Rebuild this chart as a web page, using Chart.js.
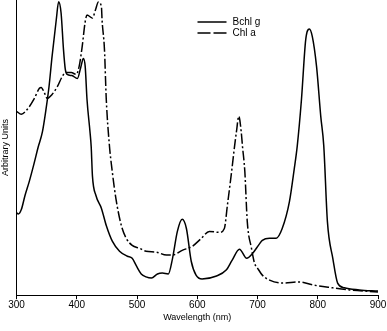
<!DOCTYPE html>
<html>
<head>
<meta charset="utf-8">
<script src="https://cdn.jsdelivr.net/npm/chart.js@4/dist/chart.umd.min.js"></script>
<style>
  html, body { margin: 0; padding: 0; background: #fff; }
  canvas { display: block; }
</style>
</head>
<body>
<canvas id="graph" width="387" height="331"></canvas>
<script>
// wavelengths (nm) and relative absorbance
const bchlWl  = [300, 303, 308, 314, 321, 329, 336, 343, 349, 354, 359, 366, 370, 374, 378, 381, 384, 392, 401, 407, 411, 414, 417, 422, 424, 426, 432, 441, 449, 459, 471, 484, 492, 499, 507, 515, 524, 534, 542, 552, 559, 567, 575, 582, 590, 598, 608, 632, 648, 658, 670, 682, 692, 703, 708, 720, 731, 741, 753, 761, 766, 773, 780, 786, 791, 798, 805, 810, 816, 825, 833, 844, 869, 900];
const bchlAbs = [28.0, 27.5, 29.0, 33.7, 38.4, 44.5, 50.2, 55.3, 63.0, 70.7, 80.8, 93.3, 99.4, 95.6, 83.2, 76.5, 74.8, 74.4, 73.4, 77.5, 80.2, 77.5, 66.4, 55.3, 50.2, 40.5, 33.7, 29.4, 23.6, 18.3, 14.9, 13.2, 12.5, 9.9, 7.2, 6.2, 5.8, 7.2, 7.5, 7.2, 12.5, 21.6, 25.7, 22.6, 11.5, 6.8, 5.5, 6.5, 8.5, 11.9, 15.6, 12.5, 14.2, 17.3, 18.6, 19.3, 19.3, 22.6, 31.7, 42.8, 50.6, 66.4, 86.5, 90.2, 87.6, 77.5, 60.6, 50.6, 25.0, 12.5, 4.1, 2.5, 1.8, 1.4];

const chlWl  = [300, 308, 318, 329, 338, 341, 346, 351, 359, 368, 376, 382, 391, 399, 404, 409, 414, 417, 426, 431, 436, 441, 442, 446, 449, 454, 459, 465, 474, 482, 492, 504, 515, 532, 549, 559, 575, 592, 607, 620, 637, 645, 650, 657, 662, 665, 669, 673, 675, 679, 683, 690, 695, 700, 708, 720, 741, 770, 791, 825, 853, 900];
const chlAbs = [62.3, 61.3, 63.0, 66.4, 70.1, 70.4, 68.7, 66.7, 68.0, 70.7, 74.1, 75.4, 75.4, 74.8, 77.5, 84.2, 92.6, 94.9, 93.9, 96.6, 99.3, 97.6, 93.3, 83.2, 66.4, 51.2, 41.8, 32.7, 23.6, 19.3, 16.9, 15.9, 14.9, 14.6, 13.6, 13.6, 15.2, 16.6, 19.3, 21.6, 21.3, 22.6, 30.4, 41.8, 50.6, 55.3, 60.6, 55.3, 50.6, 41.8, 25.0, 15.9, 10.9, 9.2, 6.8, 5.1, 4.1, 4.5, 3.5, 2.5, 1.8, 1.1];

const xTicks = [300, 400, 500, 600, 700, 800, 900];
const seriesNames = ["Bchl g", "Chl a"];

function pairs(xs, ys) {
    return xs.map((x, i) => ({x: x, y: ys[i]}));
}

// legend drawn as short line samples at the top right of the plot
const lineLegend = {
    id: "lineLegend",
    afterDraw(chart) {
        const ctx = chart.ctx;
        const a = chart.chartArea;
        const x0 = a.left + 181, len = 29;
        chart.data.datasets.forEach((ds, i) => {
            const y = a.top + 22 + i * 11;
            ctx.save();
            ctx.strokeStyle = "#000";
            ctx.lineWidth = 1.5;
            ctx.setLineDash(i == 0 ? [] : [13, 3]);
            ctx.beginPath();
            ctx.moveTo(x0, y);
            ctx.lineTo(x0 + len, y);
            ctx.stroke();
            ctx.setLineDash([]);
            ctx.fillStyle = "#000";
            ctx.font = "10px 'Liberation Sans'";
            ctx.textBaseline = "middle";
            ctx.fillText(ds.label, x0 + len + 6, y);
            ctx.restore();
        });
    }
};

new Chart("graph", {
    type: "line",
    data: {
        datasets: [{
            label: seriesNames[0],
            data: pairs(bchlWl, bchlAbs),
            borderColor: "#000",
            borderWidth: 1.5,
            pointRadius: 0,
            fill: false,
            cubicInterpolationMode: "monotone"
        }, {
            label: seriesNames[1],
            data: pairs(chlWl, chlAbs),
            borderColor: "#000",
            borderWidth: 1.5,
            borderDash: [10, 2.5, 2, 2.5],
            pointRadius: 0,
            fill: false,
            cubicInterpolationMode: "monotone"
        }]
    },
    options: {
        responsive: false,
        animation: false,
        devicePixelRatio: 1,
        layout: {padding: {left: 0, top: 0, right: 9, bottom: 8}},
        plugins: {
            legend: {display: false},
            tooltip: {enabled: false}
        },
        scales: {
            x: {
                type: "linear",
                min: 300,
                max: 900,
                afterBuildTicks: (s) => { s.ticks = xTicks.map(v => ({value: v})); },
                afterFit: (s) => { s.paddingLeft = 0; s.paddingRight = 0; },
                grid: {display: true, drawOnChartArea: false, drawTicks: true, tickLength: 4, color: "#000"},
                border: {display: true, color: "#000", width: 1},
                ticks: {color: "#000", padding: 1, maxRotation: 0, font: {family: "Liberation Sans", size: 10, lineHeight: 1}},
                title: {display: true, text: "Wavelength (nm)", color: "#000", padding: {top: 1, bottom: 0}, font: {family: "Liberation Sans", size: 9}}
            },
            y: {
                min: 0,
                max: 100,
                grid: {display: false, drawTicks: false},
                border: {display: true, color: "#000", width: 1},
                ticks: {display: false},
                title: {display: true, text: "Arbitrary Units", color: "#000", padding: {top: 0, bottom: 5.7}, font: {family: "Liberation Sans", size: 9}}
            }
        }
    },
    plugins: [lineLegend]
});
</script>
</body>
</html>
